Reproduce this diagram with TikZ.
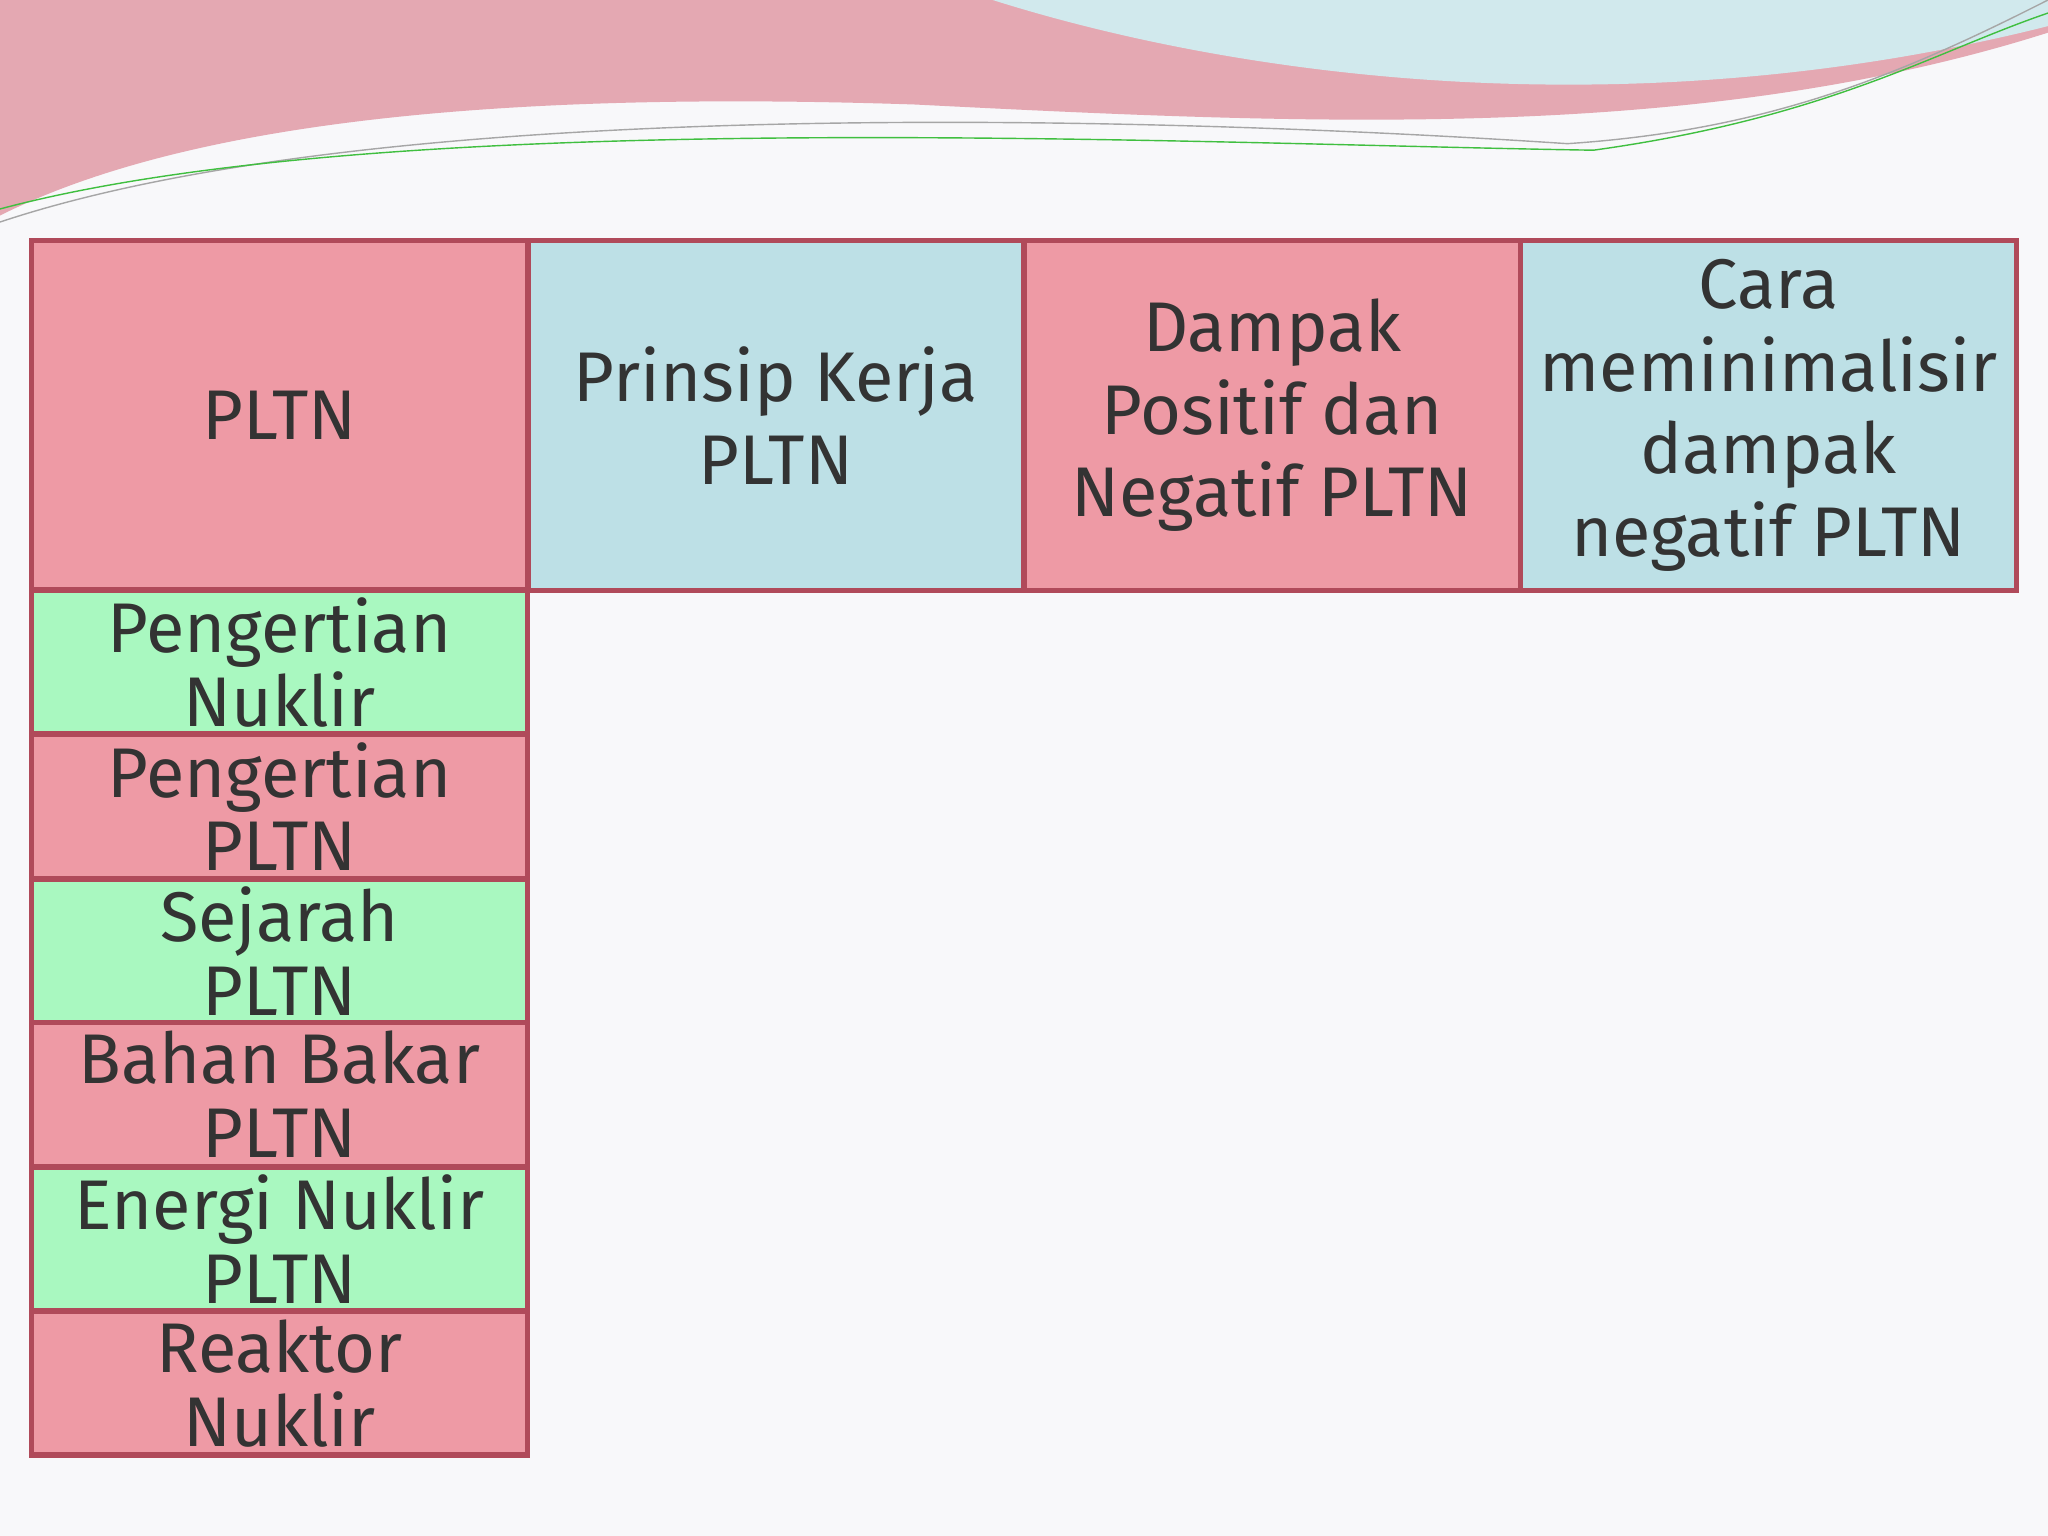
\documentclass[tikz,border=0pt]{standalone}
\usepackage{fontspec}
\setmainfont{Fira Sans}
\definecolor{pinkcell}{RGB}{238,154,165}
\definecolor{bluecell}{RGB}{189,224,230}
\definecolor{greencell}{RGB}{169,248,192}
\definecolor{cellline}{RGB}{176,74,90}
\definecolor{pagebg}{RGB}{248,248,250}
\definecolor{textgray}{RGB}{51,51,51}
\begin{document}
\begin{tikzpicture}[x=0.01306cm,y=-0.01306cm,
    cell/.style={draw=cellline, line width=1.6pt, text=textgray, align=center,
      inner sep=0pt, minimum width=4.963cm},
    head/.style={cell, minimum height=3.5cm, font=\fontsize{20}{23.5}\selectfont},
    row/.style={cell, minimum height=1.44cm, font=\fontsize{20}{21}\selectfont}
]
\useasboundingbox (0,0) rectangle (1568,1176);
\fill[pagebg] (0,0) rectangle (1568,1176);

% top waves
\fill[pinkcell!80!bluecell] (0,0) -- (0,165) .. controls (150,90) and (400,70) .. (700,80)
  .. controls (1000,95) and (1300,110) .. (1568,25) -- (1568,0) -- cycle;
\fill[bluecell!70!white] (760,0) .. controls (950,60) and (1250,100) .. (1568,20) -- (1568,0) -- cycle;
\draw[gray!70, thin] (0,170) .. controls (300,70) and (900,90) .. (1200,110) .. controls (1350,100) and (1450,60) .. (1568,0);
\draw[green!50!gray, thin] (0,160) .. controls (300,80) and (900,110) .. (1220,115) .. controls (1400,90) and (1480,40) .. (1568,10);

% header row
\node[head, fill=pinkcell] (pltn) at (214,318) {PLTN};
\node[head, fill=bluecell] (prinsip) at (594,318) {Prinsip Kerja\\PLTN};
\node[head, fill=pinkcell] (dampak) at (974,318) {Dampak\\Positif dan\\Negatif PLTN};
\node[head, fill=bluecell] (cara) at (1354,318) {Cara\\meminimalisir\\dampak\\negatif PLTN};

% left column
\node[row, fill=greencell] (nuklir) at (214,507) {Pengertian\\Nuklir};
\node[row, fill=pinkcell] (pengpltn) at (214,617.5) {Pengertian\\PLTN};
\node[row, fill=greencell] (sejarah) at (214,728) {Sejarah\\PLTN};
\node[row, fill=pinkcell] (bahan) at (214,838) {Bahan Bakar\\PLTN};
\node[row, fill=greencell] (energi) at (214,948.5) {Energi Nuklir\\PLTN};
\node[row, fill=pinkcell] (reaktor) at (214,1059) {Reaktor\\Nuklir};
\end{tikzpicture}
\end{document}
